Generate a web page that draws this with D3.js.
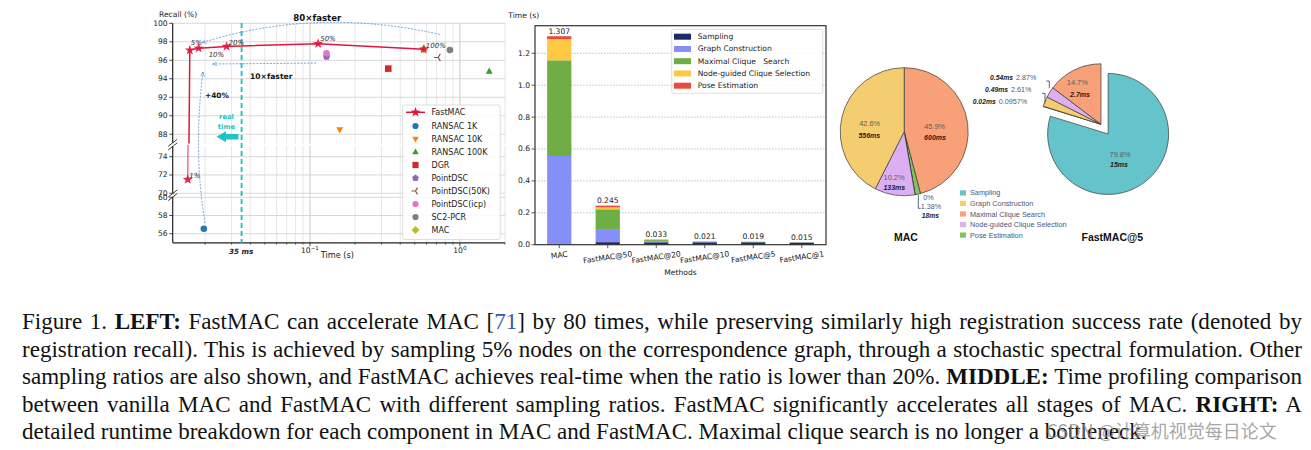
<!DOCTYPE html>
<html><head><meta charset="utf-8">
<script src="https://cdn.jsdelivr.net/npm/d3@7/dist/d3.min.js"></script>
<style>
html,body{margin:0;padding:0;background:#fff;}
svg{display:block;}
</style></head>
<body><svg id="fig"></svg>
<script>
// ================= DATA =================
// Left panel: recall vs time
const fastmacRatios  = ["1%","5%","10%","20%","50%","100%"];
const fastmacTime    = [0.0153,0.0158,0.0181,0.0278,0.1135,0.575];
const fastmacRecall  = [71.5,97.1,97.3,97.5,97.8,97.2];
const baselineNames  = ["RANSAC 1K","RANSAC 10K","RANSAC 100K","DGR","PointDSC","PointDSC(50K)","PointDSC(icp)","SC2-PCR","MAC"];
const baselineTime   = [0.0196,0.158,1.57,0.333,0.129,0.717,0.129,0.858,0.575];
const baselineRecall = [56.55,88.5,94.8,95.1,96.4,96.3,96.75,97.1,97.2];
const recallTicksTop = [88,90,92,94,96,98,100];
const recallTicksMid = [70,72,74];
const recallTicksBot = [56,58,60];
const realTimeSec    = 0.035;
// Middle panel: stacked time profile
const methods      = ["MAC","FastMAC@50","FastMAC@20","FastMAC@10","FastMAC@5","FastMAC@1"];
const stageNames   = ["Sampling","Graph Construction","Maximal Clique   Search","Node-guided Clique Selection","Pose Estimation"];
const samplingTime = [0.000,0.016,0.015,0.015,0.015,0.013];
const graphTime    = [0.556,0.082,0.007,0.0022,0.0005,0.0005];
const cliqueTime   = [0.600,0.124,0.007,0.0030,0.0027,0.0010];
const selectTime   = [0.133,0.012,0.002,0.0006,0.0005,0.0003];
const poseTime     = [0.018,0.011,0.002,0.0002,0.0003,0.0002];
const totalLabels  = ["1.307","0.245","0.033","0.021","0.019","0.015"];
const timeTicks    = [0,0.2,0.4,0.6,0.8,1.0,1.2];
// Right panel: runtime breakdown pies
const pieLegendNames  = ["Sampling","Graph Construction","Maximal Clique Search","Node-guided Clique Selection","Pose Estimation"];
const macSliceStages  = ["Maximal Clique Search","Pose Estimation","Sampling","Node-guided Clique Selection","Graph Construction"];
const macSliceMs      = [600,18,0,133,556];
const macSlicePct     = ["45.9%","1.38%","0%","10.2%","42.6%"];
const macSliceMsLabel = ["600ms","18ms","","133ms","556ms"];
const fastSliceStages = ["Sampling","Pose Estimation","Graph Construction","Node-guided Clique Selection","Maximal Clique Search"];
const fastSliceValue  = [79.8,0.0957,2.61,2.87,14.7];
const fastSlicePct    = ["79.8%","0.0957%","2.61%","2.87%","14.7%"];
const fastSliceMsLabel= ["15ms","0.02ms","0.49ms","0.54ms","2.7ms"];
const pieTitles       = ["MAC","FastMAC@5"];

// ================= STYLE =================
const SANS = "'DejaVu Sans', sans-serif";
const ARIAL = "'Liberation Sans', Arial, sans-serif";
const SERIF = "'Liberation Serif', 'Times New Roman', serif";
const fastColor = "#e0163f";
const baselineColors = ["#1f77b4","#ff7f0e","#2ca02c","#d62728","#9467bd","#8c564b","#e377c2","#7f7f7f","#bcbd22"];
const baselineShapes = ["circle","tdown","tup","square","pentagon","trileft","circle","circle","diamond"];
const stageColors = ["#1c2a66","#8490f7","#6fad45","#fec843","#ea4b3c"];
const pieColors = {"Sampling":"#65c4cb","Graph Construction":"#f4cd70","Maximal Clique Search":"#f8a077","Node-guided Clique Selection":"#dcaff2","Pose Estimation":"#7dc55a"};
const annColor = "#4d8fd3";
const tealColor = "#1fc2c6";

const svg = d3.select("#fig").attr("width",1311).attr("height",450);
const defs = svg.append("defs");

function markerPath(type, s){
  switch(type){
    case "star": {
      const R=s*1.65, r=s*0.66, p=[];
      for(let i=0;i<10;i++){const a=Math.PI/5*i, rr=i%2?r:R; p.push([rr*Math.sin(a),-rr*Math.cos(a)]);}
      return "M"+p.map(q=>q[0].toFixed(2)+","+q[1].toFixed(2)).join("L")+"Z";
    }
    case "circle": return d3.symbol(d3.symbolCircle, Math.PI*s*s)();
    case "tup": return `M0,${-s*1.15}L${s*1.05},${s*0.7}L${-s*1.05},${s*0.7}Z`;
    case "tdown": return `M0,${s*1.15}L${s*1.05},${-s*0.7}L${-s*1.05},${-s*0.7}Z`;
    case "square": return `M${-s},${-s}H${s}V${s}H${-s}Z`;
    case "diamond": return `M0,${-s*1.3}L${s*1.3},0L0,${s*1.3}L${-s*1.3},0Z`;
    case "pentagon": {
      const p=[]; for(let i=0;i<5;i++){const a=2*Math.PI/5*i; p.push([s*1.15*Math.sin(a),-s*1.15*Math.cos(a)]);}
      return "M"+p.map(q=>q[0].toFixed(2)+","+q[1].toFixed(2)).join("L")+"Z";
    }
    case "trileft": return `M0,0L${-s*1.3},0M0,0L${s*0.65},${-s*1.1}M0,0L${s*0.65},${s*1.1}`;
  }
}
function drawMarker(g, type, color, x, y, s){
  const p = g.append("path").attr("d", markerPath(type, s)).attr("transform",`translate(${x},${y})`);
  if(type==="trileft") p.attr("fill","none").attr("stroke",color).attr("stroke-width",1.2);
  else p.attr("fill",color);
  return p;
}
function txt(g, x, y, str, o={}){
  const t = g.append("text").attr("x",x).attr("y",y).text(str)
    .attr("font-family",o.family||SANS).attr("font-size",o.size||8)
    .attr("fill",o.fill||"#222").attr("text-anchor",o.anchor||"start");
  if(o.weight) t.attr("font-weight",o.weight);
  if(o.style) t.attr("font-style",o.style);
  if(o.baseline) t.attr("dominant-baseline",o.baseline);
  return t;
}

// ================= LEFT PANEL =================
const L = {x0:172.7, x1:505};
const segs = [
  {dom:[87,100],   rng:[143.5,23.3], ticks:recallTicksTop},
  {dom:[69.8,75.2],rng:[195.1,145.7],ticks:recallTicksMid},
  {dom:[55,60.2],  rng:[242.8,195.5],ticks:recallTicksBot}
];
segs.forEach(s=>s.y=d3.scaleLinear().domain(s.dom).range(s.rng));
const xL = d3.scaleLog().domain([0.01215,2.0]).range([L.x0,L.x1]);
const segIndex = v => segs.findIndex(s=>v>=s.dom[0]&&v<=s.dom[1]);
const gL = svg.append("g");

const logGrid = [];
[0.01,0.1,1].forEach(d=>{for(let k=1;k<=9;k++){const v=+(d*k).toPrecision(3); if(v>0.01215&&v<=2.0) logGrid.push(v);}});
const isMajor = v => Math.abs(Math.log10(v)-Math.round(Math.log10(v)))<1e-6;

segs.forEach((s,i)=>{
  defs.append("clipPath").attr("id","clipL"+i).append("rect")
    .attr("x",L.x0).attr("y",s.rng[1]-1).attr("width",L.x1-L.x0).attr("height",s.rng[0]-s.rng[1]+1);
  const g = gL.append("g");
  g.selectAll("line.v").data(logGrid).join("line")
    .attr("x1",d=>xL(d)).attr("x2",d=>xL(d)).attr("y1",s.rng[1]).attr("y2",s.rng[0])
    .attr("stroke",d=>isMajor(d)?"#cfcfcf":"#e3e3e3").attr("stroke-width",d=>isMajor(d)?1.1:0.9);
  g.selectAll("line.h").data(s.ticks).join("line")
    .attr("x1",L.x0).attr("x2",L.x1).attr("y1",d=>s.y(d)).attr("y2",d=>s.y(d))
    .attr("stroke","#d8d8d8").attr("stroke-width",1);
  // ticks + labels
  s.ticks.forEach(t=>{
    g.append("line").attr("x1",L.x0-3.5).attr("x2",L.x0).attr("y1",s.y(t)).attr("y2",s.y(t)).attr("stroke","#222").attr("stroke-width",0.8);
    txt(g, L.x0-5, s.y(t), String(t), {size:7.6, anchor:"end", baseline:"central"});
  });
  // spine
  g.append("line").attr("x1",L.x0).attr("x2",L.x0).attr("y1",s.rng[1]).attr("y2",s.rng[0]).attr("stroke","#222").attr("stroke-width",1.2);
});
// break marks
[[143.5,145.7],[195.1,195.5]].forEach(([a,b])=>{
  const m=(a+b)/2;
  [-1.8,1.8].forEach(o=>gL.append("line").attr("x1",L.x0-4.5).attr("y1",m+o+3.5).attr("x2",L.x0+4.5).attr("y2",m+o-3.5)
     .attr("stroke","#222").attr("stroke-width",0.9));
  gL.append("rect").attr("x",L.x0-0.8).attr("y",m-1.2).attr("width",1.6).attr("height",2.4).attr("fill","#fff");
});
// bottom spine + x ticks
gL.append("line").attr("x1",L.x0).attr("x2",L.x1).attr("y1",242.8).attr("y2",242.8).attr("stroke","#222").attr("stroke-width",1.2);
logGrid.forEach(v=>gL.append("line").attr("x1",xL(v)).attr("x2",xL(v)).attr("y1",242.8).attr("y2",242.8+(isMajor(v)?3.5:2))
  .attr("stroke","#222").attr("stroke-width",isMajor(v)?0.8:0.6));
[[0.1,"−1"],[1,"0"]].forEach(([v,e])=>{
  const t = txt(gL, xL(v), 253, "10", {size:7.6, anchor:"middle"});
  t.append("tspan").attr("dy",-3.5).attr("font-size",5.6).text(e);
});
txt(gL, 320.7, 257.5, "Time (s)", {size:8.2});
txt(gL, 159, 17, "Recall (%)", {size:7.6});

// real-time line
gL.append("line").attr("x1",xL(realTimeSec)).attr("x2",xL(realTimeSec)).attr("y1",23).attr("y2",242.8)
  .attr("stroke",tealColor).attr("stroke-width",1.9).attr("stroke-dasharray","5,3");
txt(gL, xL(realTimeSec)-0.5, 254, "35 ms", {size:7.2, anchor:"middle", weight:"bold", style:"italic", fill:"#1a1a2e"});

// baseline scatter
baselineNames.forEach((n,i)=>{
  const si = segIndex(baselineRecall[i]); if(si<0) return;
  drawMarker(gL, baselineShapes[i], baselineColors[i], xL(baselineTime[i]), segs[si].y(baselineRecall[i]), 3.3);
});
// FastMAC line per segment (clipped)
segs.forEach((s,i)=>{
  gL.append("path").attr("clip-path",`url(#clipL${i})`)
    .attr("d", d3.line()(fastmacTime.map((t,j)=>[xL(t), s.y(fastmacRecall[j])])))
    .attr("fill","none").attr("stroke",fastColor).attr("stroke-width",1.5).attr("opacity",i===0?1:0.6);
});
fastmacTime.forEach((t,j)=>{
  const si = segIndex(fastmacRecall[j]);
  drawMarker(gL, "star", fastColor, xL(t), segs[si].y(fastmacRecall[j]), 3.2).attr("opacity",0.92);
});
// ratio labels
const ratioOff = [[1.5,-1.5],[1,-5],[10,9],[2,-1.5],[2,-3],[2,-1.5]];
fastmacRatios.forEach((r,j)=>{
  const si = segIndex(fastmacRecall[j]);
  txt(gL, xL(fastmacTime[j])+ratioOff[j][0], segs[si].y(fastmacRecall[j])+ratioOff[j][1], r, {size:7, style:"italic", fill:"#333"});
});

// annotations
const mk = defs.append("marker").attr("id","arr").attr("viewBox","0 0 8 8").attr("refX",7.5).attr("refY",4)
  .attr("markerWidth",6).attr("markerHeight",6).attr("orient","auto");
mk.append("path").attr("d","M0,0.8L7.5,4L0,7.2").attr("fill","none").attr("stroke",annColor).attr("stroke-width",1.1);
const sy0 = segs[0].y;
// 80x faster curve: from FastMAC@100 to FastMAC@5
gL.append("path").attr("d",`M${xL(0.575)+16},${sy0(98.8)} Q${xL(0.11)},${sy0(101.8)} ${xL(0.0158)+12},${sy0(97.9)}`)
  .attr("fill","none").attr("stroke",annColor).attr("stroke-width",0.8).attr("stroke-dasharray","2,1.4").attr("marker-end","url(#arr)");
txt(gL, 293.3, 21, "80×faster", {size:8.6, weight:"bold", fill:"#111"});
// 10x faster
gL.append("path").attr("d",`M${xL(0.11)},${sy0(95.7)} L${xL(0.0181)+14},${sy0(95.6)}`)
  .attr("fill","none").attr("stroke",annColor).attr("stroke-width",0.8).attr("stroke-dasharray","2,1.4").attr("marker-end","url(#arr)");
txt(gL, 250, 79, "10×faster", {size:7.6, weight:"bold", fill:"#111"});
// +40%
gL.append("path").attr("d",`M205,223 Q193,150 203,72`)
  .attr("fill","none").attr("stroke",annColor).attr("stroke-width",0.8).attr("stroke-dasharray","2,1.4").attr("marker-end","url(#arr)");
txt(gL, 205, 98, "+40%", {size:7.4, weight:"bold", fill:"#111"});
// real time
txt(gL, 226.5, 118.5, "real", {size:6.8, weight:"bold", fill:tealColor, anchor:"middle"});
txt(gL, 226.5, 128.5, "time", {size:6.8, weight:"bold", fill:tealColor, anchor:"middle"});
gL.append("path").attr("d","M216.5,136.7L226,131.2V134H238.5V139.4H226V142.2Z").attr("fill",tealColor);

// legend
const lg = gL.append("g");
lg.append("rect").attr("x",402.7).attr("y",105).attr("width",97.5).attr("height",134.5).attr("rx",2)
  .attr("fill","#fff").attr("fill-opacity",0.85).attr("stroke","#d5d5d5").attr("stroke-width",0.8);
lg.append("line").attr("x1",406).attr("x2",425).attr("y1",112.3).attr("y2",112.3).attr("stroke",fastColor).attr("stroke-width",1.5);
drawMarker(lg,"star",fastColor,415.5,112.3,3.2);
txt(lg, 431.5, 112.3, "FastMAC", {size:8, baseline:"central"});
baselineNames.forEach((n,i)=>{
  const y = 126 + i*13;
  drawMarker(lg, baselineShapes[i], baselineColors[i], 415.5, y, 3.1);
  txt(lg, 431.5, y, n, {size:8, baseline:"central"});
});

// ================= MIDDLE PANEL =================
const M = {x0:535, x1:826, y0:244.7, y1:25.7};
const gM = svg.append("g");
const xM = d3.scaleBand().domain(methods).range([M.x0,M.x1]).paddingInner(0.5).paddingOuter(0.25);
const yM = d3.scaleLinear().domain([0,1.373]).range([M.y0,M.y1]);
const stageSeries = [samplingTime, graphTime, cliqueTime, selectTime, poseTime];
const table = methods.map((m,i)=>{const o={method:m}; stageNames.forEach((s,k)=>o[s]=stageSeries[k][i]); return o;});
const stacked = d3.stack().keys(stageNames)(table);

timeTicks.filter(t=>t>0).forEach(t=>gM.append("line").attr("x1",M.x0).attr("x2",M.x1).attr("y1",yM(t)).attr("y2",yM(t))
  .attr("stroke","#c4c4c4").attr("stroke-width",1).attr("stroke-dasharray","1.6,1.4"));
stacked.forEach((layer,k)=>{
  gM.append("g").selectAll("rect").data(layer).join("rect")
    .attr("x",d=>xM(d.data.method)).attr("width",xM.bandwidth())
    .attr("y",d=>yM(d[1])).attr("height",d=>Math.max(0,yM(d[0])-yM(d[1])))
    .attr("fill",stageColors[k]);
});
methods.forEach((m,i)=>{
  const tot = d3.sum(stageSeries, s=>s[i]);
  txt(gM, xM(m)+xM.bandwidth()/2, yM(tot)-2.3, totalLabels[i], {size:7.6, anchor:"middle"});
});
// spines
gM.append("rect").attr("x",M.x0).attr("y",M.y1).attr("width",M.x1-M.x0).attr("height",M.y0-M.y1)
  .attr("fill","none").attr("stroke","#333").attr("stroke-width",1.2);
timeTicks.forEach(t=>{
  gM.append("line").attr("x1",M.x0-3.5).attr("x2",M.x0).attr("y1",yM(t)).attr("y2",yM(t)).attr("stroke","#333").attr("stroke-width",0.8);
  txt(gM, M.x0-5, yM(t), t.toFixed(1), {size:7.6, anchor:"end", baseline:"central"});
});
methods.forEach(m=>{
  const cx = xM(m)+xM.bandwidth()/2;
  gM.append("line").attr("x1",cx).attr("x2",cx).attr("y1",M.y0).attr("y2",M.y0+3.5).attr("stroke","#333").attr("stroke-width",0.8);
  const t = txt(gM, 0, 0, m, {size:7.6, anchor:"middle", baseline:"central"});
  const w = t.node().getComputedTextLength(), a = 8*Math.PI/180;
  const hgt = w*Math.sin(a) + 6*Math.cos(a);
  t.attr("transform",`translate(${cx},${251+hgt/2}) rotate(-8)`);
});
txt(gM, (M.x0+M.x1)/2, 275, "Methods", {size:7.6, anchor:"middle"});
txt(gM, 508.3, 18.3, "Time (s)", {size:7.6});
// legend
const lgM = gM.append("g");
lgM.append("rect").attr("x",671.7).attr("y",29.3).attr("width",151).attr("height",64).attr("rx",2)
  .attr("fill","#fff").attr("fill-opacity",0.85).attr("stroke","#d5d5d5").attr("stroke-width",0.8);
stageNames.forEach((n,k)=>{
  const y = 36.7 + k*12.25;
  lgM.append("rect").attr("x",674).attr("y",y-3).attr("width",17).attr("height",6).attr("fill",stageColors[k]);
  txt(lgM, 697.7, y, n, {size:7.6, baseline:"central"}).attr("xml:space","preserve").style("white-space","pre");
});

// ================= RIGHT PANEL =================
const gR = svg.append("g");
const pieGen = d3.pie().sort(null).startAngle(0).endAngle(2*Math.PI);
// MAC pie
const macC = [904.2,131.7], macR = 64;
const macArcs = pieGen.value(d=>d)(macSliceMs);
const arcMac = d3.arc().innerRadius(0).outerRadius(macR);
const gMac = gR.append("g").attr("transform",`translate(${macC})`);
gMac.selectAll("path").data(macArcs).join("path").attr("d",arcMac)
  .attr("fill",(d,i)=>pieColors[macSliceStages[i]]).attr("stroke","#3a3a3a").attr("stroke-width",0.7);
const macLabelPos = {"Maximal Clique Search":[[30.5,-5],[30.8,5.6]],"Node-guided Clique Selection":[[-10.2,46],[-9.9,55.6]],"Graph Construction":[[-34.5,-8.4],[-34.9,3.3]]};
macSliceStages.forEach((s,i)=>{
  const p = macLabelPos[s]; if(!p) return;
  txt(gMac, p[0][0], p[0][1], macSlicePct[i], {family:ARIAL, size:7.4, anchor:"middle", baseline:"central", fill:"#5c5c5c"});
  txt(gMac, p[1][0], p[1][1], macSliceMsLabel[i], {family:ARIAL, size:7, anchor:"middle", baseline:"central", fill:"#222", weight:"bold", style:"italic"});
});
// small slices bracket (Sampling 0%, Pose 1.38%)
gR.append("path").attr("d","M918.3,195V208.3H920.7").attr("fill","none").attr("stroke","#2e3f6e").attr("stroke-width",0.8);
const iSamp = macSliceStages.indexOf("Sampling"), iPose = macSliceStages.indexOf("Pose Estimation");
txt(gR, 923.3, 197.6, macSlicePct[iSamp], {family:ARIAL, size:7.2, baseline:"central", fill:"#4a5a8a"});
txt(gR, 920.7, 206, macSlicePct[iPose], {family:ARIAL, size:7.2, baseline:"central", fill:"#4a5a8a"});
txt(gR, 921.7, 215.5, macSliceMsLabel[iPose], {family:ARIAL, size:6.8, baseline:"central", fill:"#222", weight:"bold", style:"italic"});

// FastMAC@5 pie
const fC = [1101,124.3], fR = 60.5;
const fArcs = pieGen.value(d=>d)(fastSliceValue);
const arcF = d3.arc().innerRadius(0).outerRadius(fR);
const gF = gR.append("g").attr("transform",`translate(${fC})`);
const explode = s => s==="Sampling"?12:0;
gF.selectAll("path").data(fArcs).join("path").attr("d",arcF)
  .attr("transform",(d,i)=>{const m=(d.startAngle+d.endAngle)/2, e=explode(fastSliceStages[i]); return `translate(${e*Math.sin(m)},${-e*Math.cos(m)})`;})
  .attr("fill",(d,i)=>pieColors[fastSliceStages[i]]).attr("stroke","#3a3a3a").attr("stroke-width",0.7);
const fLabelPos = {"Sampling":[[19,30],[18,40.4]],"Maximal Clique Search":[[-23.7,-42],[-21,-30]]};
fastSliceStages.forEach((s,i)=>{
  const p = fLabelPos[s]; if(!p) return;
  txt(gF, p[0][0], p[0][1], fastSlicePct[i], {family:ARIAL, size:7.4, anchor:"middle", baseline:"central", fill:"#5c5c5c"});
  txt(gF, p[1][0], p[1][1], fastSliceMsLabel[i], {family:ARIAL, size:7, anchor:"middle", baseline:"central", fill:"#222", weight:"bold", style:"italic"});
});
// outside labels for tiny slices
const outside = [["Node-guided Clique Selection",990,77.3],["Graph Construction",985,89.3],["Pose Estimation",972.7,101.7]];
outside.forEach(([s,x,y])=>{
  const i = fastSliceStages.indexOf(s);
  const t1 = txt(gR, x, y, fastSliceMsLabel[i], {family:ARIAL, size:6.8, baseline:"central", fill:"#222", weight:"bold", style:"italic"});
  const w = t1.node().getComputedTextLength();
  txt(gR, x+w+3, y, fastSlicePct[i], {family:ARIAL, size:7.2, baseline:"central", fill:"#4a5a8a"});
});
gR.append("path").attr("d","M1046.3,81H1049.3V88.3").attr("fill","none").attr("stroke","#2e3f6e").attr("stroke-width",0.8);
gR.append("path").attr("d","M1042,93.3H1045V103.3").attr("fill","none").attr("stroke","#2e3f6e").attr("stroke-width",0.8);

// pie legend
pieLegendNames.forEach((n,k)=>{
  const y = 192.9 + k*10.55;
  gR.append("rect").attr("x",960).attr("y",y-2.6).attr("width",6).attr("height",5.2).attr("fill",pieColors[n]);
  txt(gR, 970, y, n, {family:ARIAL, size:7.3, baseline:"central", fill:"#4a5678"});
});
txt(gR, 906, 237, pieTitles[0], {family:ARIAL, size:10.5, weight:"bold", anchor:"middle", baseline:"central", fill:"#111"});
txt(gR, 1112.3, 237.3, pieTitles[1], {family:ARIAL, size:10.5, weight:"bold", anchor:"middle", baseline:"central", fill:"#111"});

// ================= CAPTION =================
const captionLines = [
  [["Figure 1. ",""],["LEFT:","b"],[" FastMAC can accelerate MAC [",""],["71","c"],["] by 80 times, while preserving similarly high registration success rate (denoted by",""]],
  [["registration recall). This is achieved by sampling 5% nodes on the correspondence graph, through a stochastic spectral formulation. Other",""]],
  [["sampling ratios are also shown, and FastMAC achieves real-time when the ratio is lower than 20%. ",""],["MIDDLE:","b"],[" Time profiling comparison",""]],
  [["between vanilla MAC and FastMAC with different sampling ratios. FastMAC significantly accelerates all stages of MAC. ",""],["RIGHT:","b"],[" A",""]],
  [["detailed runtime breakdown for each component in MAC and FastMAC. Maximal clique search is no longer a bottleneck.",""]]
];
const capBase = [328.9,356.5,384.1,411.7,439.3];
const gC = svg.append("g");
function capLine(parts, y, fs){
  const t = gC.append("text").attr("x",22).attr("y",y).attr("font-family",SERIF).attr("font-size",fs).attr("fill","#111");
  parts.forEach(([s,st])=>{
    const sp = t.append("tspan").text(s);
    if(st==="b") sp.attr("font-weight","bold");
    if(st==="c") sp.attr("fill","#3d5aa8");
  });
  return t;
}
// fit font size to last (unjustified) line width
const probe = capLine(captionLines[4], -100, 20);
const fs = 20*1125/probe.node().getComputedTextLength();
probe.remove();
captionLines.forEach((parts,i)=>{
  const t = capLine(parts, capBase[i], fs);
  if(i<4){
    const nat = t.node().getComputedTextLength();
    const spaces = parts.map(p=>p[0]).join("").split(" ").length-1;
    t.style("word-spacing", ((1280-nat)/spaces)+"px");
  }
});
txt(gC, 1046.5, 438, "CSDN @计算机视觉每日论文", {family:"'Noto Sans CJK SC', sans-serif", size:18, fill:"#8a8a8a"}).attr("opacity",0.75);
</script></body></html>
